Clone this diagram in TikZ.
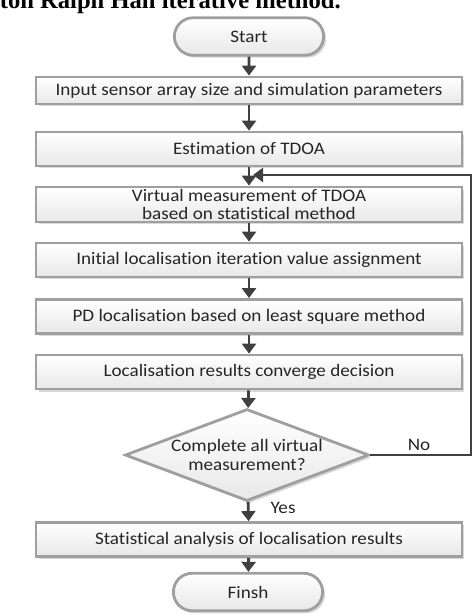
\documentclass[tikz,border=0pt]{standalone}
\usepackage{fontspec}
\setmainfont{Liberation Serif}
\newfontfamily\boxfont{Carlito}[Ligatures=NoCommon, FakeStretch=1.09]
\usetikzlibrary{shapes.geometric,shapes.misc,shadows,arrows.meta}

\begin{document}
\begin{tikzpicture}[x=0.02cm, y=-0.02cm, >={Triangle[width=0.28cm,length=0.2cm]},
	font=\boxfont\fontsize{10}{11}\selectfont]
	\tikzstyle{format} = [draw=gray!75, rectangle, minimum width=8.52cm,
	minimum height=0.68cm, top color=white, bottom color=gray!18, text=black!85,
	drop shadow={shadow xshift=0.05cm, shadow yshift=-0.05cm, opacity=0.3}]
	\tikzstyle{term} = [format, rounded rectangle, minimum width=3.22cm,
	minimum height=0.75cm]
	\tikzstyle{decide} = [format, diamond, aspect=2.65, inner sep=0pt,
	minimum width=4.88cm, minimum height=1.84cm, align=center]
	\tikzstyle{flow} = [->, line width=1.6pt, black!75]

	\clip (0,0) rectangle (474,615);

	\node[anchor=base east, font=\rmfamily\bfseries\fontsize{14}{16}\selectfont]
		(cap) at (347,9) {Newton Ralph Han iterative method.};

	\path[flow]
		node[term] (start) at (249,36.5) {Start}
		node[format, minimum height=0.54cm] (b1) at (249,90.5) {Input sensor array size and simulation parameters}
		node[format] (b2) at (249,149) {Estimation of TDOA}
		node[format, align=center, inner ysep=0pt, minimum height=0.7cm,
			font=\boxfont\fontsize{10}{10}\selectfont] (b3) at (249,204.5) {Virtual measurement of TDOA\\based on statistical method}
		node[format] (b4) at (249,260) {Initial localisation iteration value assignment}
		node[format] (b5) at (249,316.5) {PD localisation based on least square method}
		node[format] (b6) at (249,372) {Localisation results converge decision}
		node[decide] (dec) at (247,455) {Complete all virtual\\measurement?}
		node[format] (b7) at (249,539.5) {Statistical analysis of localisation results}
		node[term] (fin) at (248,592) {Finsh}

		(start) edge (b1)
		(b1) edge (b2)
		(b2) edge (b3)
		(b3) edge (b4)
		(b4) edge (b5)
		(b5) edge (b6)
		(b6) edge (dec)
		(dec) edge (b7)
		(b7) edge (fin)

		node[text=black!85] (yes) at (283,508) {Yes}
		node[text=black!85] (no) at (419,445) {No}
		;

	% loop back to the virtual measurement
	\coordinate (rgt) at (471,175);
	\coordinate (fbend) at (253,175);
	\draw[flow] (dec.east) -| (rgt) -- (fbend);

\end{tikzpicture}
\end{document}
